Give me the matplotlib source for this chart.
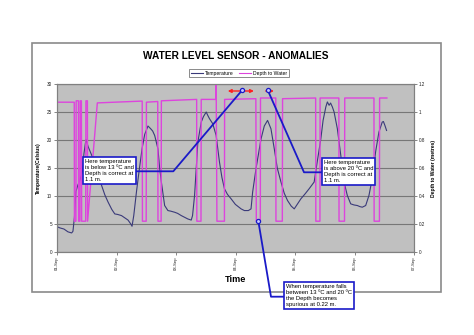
import matplotlib
matplotlib.use('Agg')
import matplotlib.pyplot as plt
from matplotlib.lines import Line2D
from matplotlib.patches import Rectangle, FancyArrowPatch

plt.rcParams['font.family'] = ['Liberation Sans', 'DejaVu Sans']

# days since 01-Sep 00:00
temp_days = [0.005, 0.050, 0.117, 0.184, 0.246, 0.268, 0.293, 0.318, 0.352, 0.385,
             0.430, 0.452, 0.486, 0.524, 0.586, 0.637, 0.687, 0.749, 0.804, 0.859,
             0.921, 0.971, 1.022, 1.084, 1.139, 1.194, 1.240, 1.261, 1.290, 1.335,
             1.374, 1.429, 1.474, 1.529, 1.575, 1.608, 1.642, 1.697, 1.725, 1.754,
             1.809, 1.864, 1.910, 1.977, 2.027, 2.089, 2.144, 2.199, 2.256, 2.278,
             2.312, 2.367, 2.424, 2.462, 2.508, 2.529, 2.563, 2.618, 2.675, 2.730,
             2.772, 2.814, 2.864, 2.926, 2.998, 3.094, 3.149, 3.216, 3.261, 3.288,
             3.345, 3.429, 3.484, 3.539, 3.596, 3.652, 3.702, 3.764, 3.819, 3.874,
             3.936, 3.987, 4.037, 4.099, 4.171, 4.238, 4.322, 4.372, 4.434, 4.472,
             4.518, 4.544, 4.573, 4.598, 4.628, 4.657, 4.712, 4.769, 4.824, 4.879,
             4.936, 4.992, 5.047, 5.092, 5.131, 5.188, 5.243, 5.298, 5.355, 5.410,
             5.466, 5.486, 5.511, 5.539]
temp_vals = [4.5, 4.3, 4.1, 3.6, 3.4, 3.7, 6.2, 10.8, 12.0, 12.8,
             14.5, 17.5, 20.1, 18.8, 17.2, 16.0, 14.0, 11.9, 10.2, 8.9,
             7.6, 6.8, 6.7, 6.5, 6.1, 5.7, 5.0, 4.6, 6.5, 10.7,
             14.0, 18.4, 21.0, 22.5, 22.0, 21.6, 20.8, 18.4, 15.0, 12.5,
             8.3, 7.4, 7.3, 7.1, 6.9, 6.5, 6.2, 5.9, 5.7, 6.5,
             10.1, 19.6, 23.2, 24.2, 25.0, 24.5, 23.8, 22.9, 20.8, 16.1,
             13.3, 11.3, 10.3, 9.5, 8.5, 7.7, 7.4, 7.4, 7.7, 10.7,
             14.9, 20.2, 22.5, 23.5, 22.0, 18.4, 15.0, 12.5, 10.5, 9.2,
             8.2, 7.7, 8.5, 9.5, 10.4, 11.3, 12.5, 16.0, 20.2, 23.5,
             25.9, 26.8, 26.2, 26.6, 25.9, 25.0, 22.0, 17.3, 12.5, 10.1,
             8.6, 8.4, 8.3, 8.1, 8.0, 8.3, 10.1, 13.1, 17.9, 21.4,
             23.2, 23.3, 22.6, 21.7]

depth_days = [0.0, 0.290, 0.293, 0.318, 0.322, 0.360, 0.363, 0.385, 0.389, 0.410,
              0.414, 0.482, 0.486, 0.511, 0.514, 0.678, 1.432, 1.436, 1.499, 1.503,
              1.693, 1.697, 1.750, 1.754, 2.347, 2.350, 2.420, 2.424, 2.672, 2.675,
              2.688, 2.814, 2.817, 3.342, 3.350, 3.417, 3.420, 3.677, 3.680, 3.787,
              3.791, 4.347, 4.350, 4.419, 4.422, 4.737, 4.740, 4.832, 4.836, 5.327,
              5.330, 5.419, 5.422, 5.544]
depth_vals = [1.07, 1.07, 0.22, 0.22, 1.08, 1.08, 0.22, 0.22, 1.08, 1.08,
              0.22, 0.22, 1.08, 1.08, 0.22, 1.065, 1.078, 0.22, 0.22, 1.07,
              1.075, 0.22, 0.22, 1.08, 1.09, 0.22, 0.22, 1.09, 1.09, 1.2,
              0.22, 0.22, 1.09, 1.095, 0.22, 0.22, 1.1, 1.1, 0.22, 0.22,
              1.095, 1.1, 0.22, 0.22, 1.1, 1.1, 0.22, 0.22, 1.1, 1.1,
              0.22, 0.22, 1.1, 1.1]

day_labels = ['01-Sep', '02-Sep', '03-Sep', '04-Sep', '05-Sep', '06-Sep', '07-Sep']
temp_ticks = [0, 5, 10, 15, 20, 25, 30]
depth_ticks = [0, 0.2, 0.4, 0.6, 0.8, 1.0, 1.2]
depth_ticklabels = ['0', '0.2', '0.4', '0.6', '0.8', '1', '1.2']

W, H = 474, 335
def px(x, y):
    return (x / W, 1 - y / H)

fig = plt.figure(figsize=(4.74, 3.35), dpi=100)
fig.patches.append(Rectangle(px(32, 292), 409 / W, 249 / H, transform=fig.transFigure,
                             fill=False, edgecolor='#8a8a8a', lw=1.2))

ax = fig.add_axes([57 / W, 1 - 252 / H, 357 / W, 168 / H])
ax.set_facecolor('#c0c0c0')
ax.plot(temp_days, temp_vals, color='#3a3a7a', lw=0.8, label='Temperature')
ax.set_xlim(0, 6)
ax.set_ylim(0, 30)
ax.set_yticks(temp_ticks)
ax.set_yticklabels([str(t) for t in temp_ticks], fontsize=3.3, color='#222222')
ax.set_xticks(range(len(day_labels)))
ax.set_xticklabels(day_labels, rotation=90, fontsize=3.1, color='#222222')
ax.grid(axis='y', color='#777777', lw=0.8)
ax.tick_params(length=2, width=0.5, color='#555555', pad=1.5)
for s in ax.spines.values():
    s.set_color('#808080')
    s.set_linewidth(0.8)
ax.set_ylabel('Temperature(Celsius)', fontsize=3.6, fontweight='bold', labelpad=4)

ax2 = ax.twinx()
ax2.plot(depth_days, depth_vals, color='#dd44dd', lw=1.0, label='Depth to Water')
ax2.set_ylim(0, 1.2)
ax2.set_yticks(depth_ticks)
ax2.set_yticklabels(depth_ticklabels, fontsize=3.3, color='#222222')
ax2.tick_params(length=2, width=0.5, color='#555555', pad=1.5)
for s in ax2.spines.values():
    s.set_color('#808080')
    s.set_linewidth(0.8)
ax2.set_ylabel('Depth to Water (metres)', fontsize=3.6, fontweight='bold', labelpad=4)

fig.text(*px(236, 56), 'WATER LEVEL SENSOR - ANOMALIES', fontsize=7.3, fontweight='bold',
         ha='center', va='center')
fig.text(*px(236, 279), 'Time', fontsize=6.6, fontweight='bold', ha='center', va='center')

handles = [Line2D([], [], color='#3a3a7a', lw=0.8), Line2D([], [], color='#dd44dd', lw=0.8)]
leg = fig.legend(handles, ['Temperature', 'Depth to Water'], loc='center',
                 bbox_to_anchor=px(239, 73), ncol=2, fontsize=3.6, frameon=True,
                 fancybox=False, edgecolor='#555555', borderpad=0.3, handlelength=2.5,
                 columnspacing=1.0, handletextpad=0.4)
leg.get_frame().set_linewidth(0.6)

# red double arrows
for x0, x1 in [(225, 256.7), (261.7, 276.7)]:
    fig.patches.append(FancyArrowPatch(px(x0, 91), px(x1, 91), transform=fig.transFigure,
                                       arrowstyle='<|-|>', mutation_scale=5,
                                       color='#ff2020', lw=1.0))

blue = '#1a1ac8'
callouts = [
    ([(135.7, 171.3), (173.3, 171.3), (242.3, 90)], (83.3, 157.3),
     'Here temperature\nis below 13 ºC and\nDepth is correct at\n1.1 m.'),
    ([(321.7, 172.3), (304, 172.3), (267.7, 90)], (321.7, 158.3),
     'Here temperature\nis above 20 ºC and\nDepth is correct at\n1.1 m.'),
    ([(284.3, 296.7), (271, 296.7), (258.3, 221)], (284.3, 282.3),
     'When temperature falls\nbetween 13 ºC and 20 ºC\nthe Depth becomes\nspurious at 0.22 m.'),
]
for pts, corner, txt in callouts:
    xs = [px(*p)[0] for p in pts]
    ys = [px(*p)[1] for p in pts]
    fig.add_artist(Line2D(xs, ys, transform=fig.transFigure, color=blue, lw=1.3))
    fig.add_artist(Line2D([xs[-1]], [ys[-1]], transform=fig.transFigure, marker='o',
                          ms=3, mfc='#c8c8ff', mec=blue, mew=0.9, ls='none'))
    fig.text(corner[0] / W + 0.004, 1 - corner[1] / H - 0.006, txt, fontsize=4.2,
             ha='left', va='top', linespacing=1.2,
             bbox=dict(boxstyle='square,pad=0.35', fc='white', ec=blue, lw=1.2))

fig.savefig('out.png', dpi=100)
